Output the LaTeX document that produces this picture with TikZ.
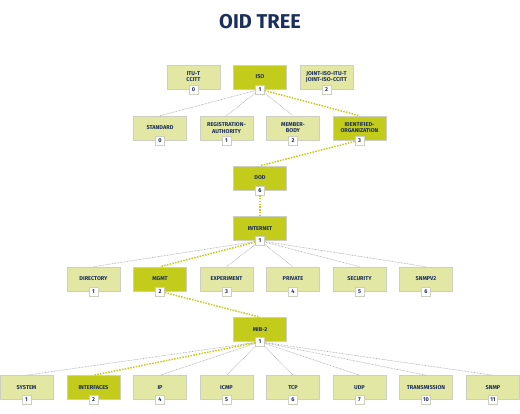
\documentclass[tikz,border=0pt]{standalone}
\usepackage{fontspec}
\setmainfont{Fira Sans}
\usepackage{tikz}

\definecolor{oidnavy}{HTML}{1B2F5C}
\definecolor{oidpale}{HTML}{E3E7A4}
\definecolor{oidlime}{HTML}{C3CC1A}
\definecolor{oidedge}{HTML}{CDCFC2}
\definecolor{oiddot}{HTML}{B0B0B0}

\tikzset{
  oidbox/.style={draw=oidedge, line width=0.6pt, fill=oidpale, minimum width=53pt, minimum height=24pt,
    inner sep=1pt, align=center, text=oidnavy, font=\fontsize{5.6}{6.2}\selectfont\bfseries},
  oidsel/.style={oidbox, fill=oidlime},
  oidnum/.style={draw=oidedge, line width=0.6pt, fill=white, minimum width=9pt, minimum height=9pt,
    inner sep=0.8pt, text=oidnavy, font=\fontsize{5.6}{6.2}\selectfont\bfseries},
  link/.style={draw=oiddot, line width=0.7pt, dash pattern=on 0.7pt off 0.8pt},
  pathlink/.style={draw=oidlime, line width=1.5pt, dash pattern=on 1.5pt off 1.3pt}
}

\begin{document}
\begin{tikzpicture}[x=1pt,y=-1pt]
\useasboundingbox (0,0) rectangle (520,413);

\node[text=oidnavy, font=\fontsize{20}{22}\selectfont\bfseries] (title) at (260,22) {OID TREE};

%% top level
\node[oidbox] (itu) at (193.5,77) {ITU-T\\CCITT};
\node[oidsel] (iso) at (260,77) {ISO};
\node[oidbox] (joint) at (326.5,77) {JOINT-ISO-ITU-T\\JOINT-ISO-CCITT};
\node[oidnum] (itu-n) at (itu.south) {0};
\node[oidnum] (iso-n) at (iso.south) {1};
\node[oidnum] (joint-n) at (joint.south) {2};

%% under iso
\node[oidbox] (std) at (160,128) {STANDARD};
\node[oidbox] (reg) at (226.5,128) {REGISTRATION-\\AUTHORITY};
\node[oidbox] (member) at (293,128) {MEMBER-\\BODY};
\node[oidsel] (ident) at (359.5,128) {IDENTIFIED-\\ORGANIZATION};
\node[oidnum] (std-n) at (std.south) {0};
\node[oidnum] (reg-n) at (reg.south) {1};
\node[oidnum] (member-n) at (member.south) {2};
\node[oidnum] (ident-n) at (ident.south) {3};

\node[oidsel] (dod) at (260,178) {DOD};
\node[oidnum] (dod-n) at (dod.south) {6};

\node[oidsel] (internet) at (260,228.5) {INTERNET};
\node[oidnum] (internet-n) at (internet.south) {1};

%% under internet
\node[oidbox] (dir) at (93.5,279) {DIRECTORY};
\node[oidsel] (mgmt) at (160,279) {MGMT};
\node[oidbox] (exp) at (226.5,279) {EXPERIMENT};
\node[oidbox] (priv) at (293,279) {PRIVATE};
\node[oidbox] (sec) at (359.5,279) {SECURITY};
\node[oidbox] (snmpv) at (426,279) {SNMPV2};
\node[oidnum] (dir-n) at (dir.south) {1};
\node[oidnum] (mgmt-n) at (mgmt.south) {2};
\node[oidnum] (exp-n) at (exp.south) {3};
\node[oidnum] (priv-n) at (priv.south) {4};
\node[oidnum] (sec-n) at (sec.south) {5};
\node[oidnum] (snmpv-n) at (snmpv.south) {6};

\node[oidsel] (mib) at (260,329.5) {MIB-2};
\node[oidnum] (mib-n) at (mib.south) {1};

%% under mib-2
\node[oidbox] (sys) at (26.5,387.5) {SYSTEM};
\node[oidsel] (ifs) at (93.5,387.5) {INTERFACES};
\node[oidbox] (ip) at (160,387.5) {IP};
\node[oidbox] (icmp) at (226.5,387.5) {ICMP};
\node[oidbox] (tcp) at (293,387.5) {TCP};
\node[oidbox] (udp) at (359.5,387.5) {UDP};
\node[oidbox] (trans) at (426,387.5) {TRANSMISSION};
\node[oidbox] (snmp) at (493,387.5) {SNMP};
\node[oidnum] (sys-n) at (sys.south) {1};
\node[oidnum] (ifs-n) at (ifs.south) {2};
\node[oidnum] (ip-n) at (ip.south) {4};
\node[oidnum] (icmp-n) at (icmp.south) {5};
\node[oidnum] (tcp-n) at (tcp.south) {6};
\node[oidnum] (udp-n) at (udp.south) {7};
\node[oidnum] (trans-n) at (trans.south) {10};
\node[oidnum] (snmp-n) at (snmp.south) {11};

%% connectors
\draw[link] (iso-n) -- (std.north);
\draw[link] (iso-n) -- (reg.north);
\draw[link] (iso-n) -- (member.north);
\draw[pathlink] (iso-n) -- (ident.north);
\draw[pathlink] (ident-n) -- (dod.north);
\draw[pathlink] (dod-n) -- (internet.north);

\draw[link] (internet-n) -- (dir.north);
\draw[pathlink] (internet-n) -- (mgmt.north);
\draw[link] (internet-n) -- (exp.north);
\draw[link] (internet-n) -- (priv.north);
\draw[link] (internet-n) -- (sec.north);
\draw[link] (internet-n) -- (snmpv.north);
\draw[pathlink] (mgmt-n) -- (mib.north);

\draw[link] (mib-n) -- (sys.north);
\draw[pathlink] (mib-n) -- (ifs.north);
\draw[link] (mib-n) -- (ip.north);
\draw[link] (mib-n) -- (icmp.north);
\draw[link] (mib-n) -- (tcp.north);
\draw[link] (mib-n) -- (udp.north);
\draw[link] (mib-n) -- (trans.north);
\draw[link] (mib-n) -- (snmp.north);

\end{tikzpicture}
\end{document}
